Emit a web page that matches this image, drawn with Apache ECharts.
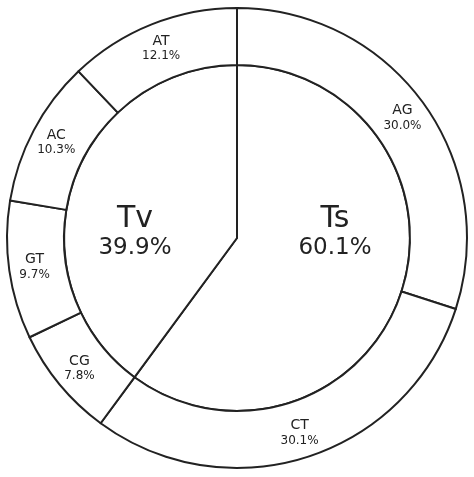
<!DOCTYPE html>
<html><head><meta charset="utf-8">
<script src="https://cdn.jsdelivr.net/npm/echarts@6/dist/echarts.min.js"></script>
<style>html,body{margin:0;padding:0;background:#fff}#c{width:474px;height:477px}</style>
</head><body><div id="c"></div>
<script>
const innerNames = ['Ts', 'Tv'];
const innerValues = [60.1, 39.9];
const outerNames = ['AG', 'CT', 'CG', 'GT', 'AC', 'AT'];
const outerValues = [30.0, 30.1, 7.8, 9.7, 10.3, 12.1];

const chart = echarts.init(document.getElementById('c'));
const ff = 'DejaVu Sans';
const style = {color: '#fff', borderColor: '#222', borderWidth: 2};
chart.setOption({
  animation: false,
  series: [
    {
      type: 'pie', center: [237, 238], radius: [0, 173], silent: true,
      itemStyle: style,
      data: innerNames.map((n, i) => ({name: n, value: innerValues[i]})),
      label: {
        position: 'inside', fontFamily: ff, color: '#222',
        formatter: p => '{n|' + p.name + '}\n{v|' + p.value.toFixed(1) + '%}',
        rich: {n: {fontSize: 30, fontFamily: ff, color: '#222', lineHeight: 32},
               v: {fontSize: 23, fontFamily: ff, color: '#222', lineHeight: 26}}
      },
      labelLayout: p => ({x: p.dataIndex === 0 ? 335 : 135, y: 232, align: 'center', verticalAlign: 'middle'})
    },
    {
      type: 'pie', center: [237, 238], radius: [173, 230], silent: true,
      itemStyle: style,
      data: outerNames.map((n, i) => ({name: n, value: outerValues[i]})),
      label: {
        position: 'inside', fontFamily: ff, color: '#222',
        formatter: p => '{n|' + p.name + '}\n{v|' + p.value.toFixed(1) + '%}',
        rich: {n: {fontSize: 14, fontFamily: ff, color: '#222', lineHeight: 16},
               v: {fontSize: 12, fontFamily: ff, color: '#222', lineHeight: 14}}
      }
    }
  ]
});
</script></body></html>
